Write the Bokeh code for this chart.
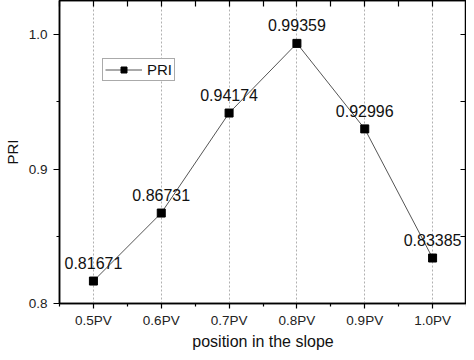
from bokeh.plotting import figure
from bokeh.models import (ColumnDataSource, FixedTicker, LinearAxis, Range1d,
                          Legend, LegendItem, Grid)
from bokeh.core.properties import value
from bokeh.embed import file_html
from bokeh.resources import INLINE

# ---- data ----
categories = ["0.5PV", "0.6PV", "0.7PV", "0.8PV", "0.9PV", "1.0PV"]
pri = [0.81671, 0.86731, 0.94174, 0.99359, 0.92996, 0.83385]
y_ticks = [0.8, 0.9, 1.0]
y_minor = [0.85, 0.95]

FONT = "Liberation Sans"

xs = list(range(len(categories)))
src = ColumnDataSource(dict(x=xs, y=pri, lab=["%.5f" % v for v in pri]))

p = figure(width=466, height=352, output_backend="svg", toolbar_location=None,
           x_range=Range1d(-0.5, len(categories) - 0.5),
           y_range=Range1d(0.8, 1.0255),
           min_border_left=0, min_border_right=0, min_border_top=0,
           min_border_bottom=0, x_axis_type=None, y_axis_type=None)
p.background_fill_color = "white"
p.border_fill_color = "white"
p.outline_line_color = "black"
p.outline_line_width = 1.5

x_minor = [i - 0.5 for i in range(len(categories) + 1)]
xt = FixedTicker(ticks=xs, minor_ticks=x_minor)
yt = FixedTicker(ticks=y_ticks, minor_ticks=y_minor)

def style(ax, labels=True, inward=False):
    ax.axis_line_color = "black"
    ax.axis_line_width = 1.5
    ax.major_tick_line_color = "black"
    ax.minor_tick_line_color = "black"
    ax.major_tick_line_width = 1.2
    ax.minor_tick_line_width = 1.2
    if inward:
        ax.major_tick_in = 6
        ax.major_tick_out = 0
        ax.minor_tick_in = 6
        ax.minor_tick_out = 0
    else:
        ax.major_tick_in = 0
        ax.major_tick_out = 5
        ax.minor_tick_in = 0
        ax.minor_tick_out = 3
    ax.major_label_text_font = FONT
    ax.major_label_text_font_size = "13.5px"
    ax.major_label_text_color = "#222222"
    ax.axis_label_text_font = FONT
    ax.axis_label_text_font_style = "normal"
    ax.axis_label_text_color = "#111111"
    if not labels:
        ax.major_label_text_alpha = 0
        ax.major_label_text_font_size = "0px"
        ax.major_label_standoff = 0

xb = LinearAxis(ticker=xt, axis_label="position in the slope")
style(xb)
xb.major_label_overrides = {i: c for i, c in enumerate(categories)}
xb.major_label_standoff = 4
xb.axis_label_text_font_size = "16px"
xb.axis_label_standoff = 2
p.add_layout(xb, "below")

yl = LinearAxis(ticker=yt, axis_label="PRI")
style(yl)
yl.major_tick_out = 6
yl.major_label_overrides = {v: "%.1f" % v for v in y_ticks}
yl.major_label_standoff = 6
yl.axis_label_text_font_size = "15px"
yl.axis_label_standoff = 5
p.add_layout(yl, "left")

xa = LinearAxis(ticker=xt)
style(xa, labels=False, inward=True)
p.add_layout(xa, "above")

yr = LinearAxis(ticker=yt)
style(yr, labels=False, inward=True)
p.add_layout(yr, "right")

g = Grid(dimension=0, ticker=xt, grid_line_color="#b0b0b0",
         grid_line_dash="2 2", grid_line_width=1)
p.add_layout(g, "center")

ln = p.line("x", "y", source=src, line_color="#555555", line_width=1)
mk = p.scatter("x", "y", source=src, marker="square", size=8,
               fill_color="black", line_color="black")

p.text("x", "y", text="lab", source=src, text_align="center",
       text_baseline="middle", y_offset=-18, text_font=value(FONT),
       text_font_size="16px", text_color="#111111")

leg = Legend(items=[LegendItem(label="PRI", renderers=[ln, mk])],
             location=(43, 222), orientation="vertical",
             border_line_color="#555555", border_line_width=1,
             background_fill_color="white", background_fill_alpha=1,
             label_text_font=FONT, label_text_font_size="15px",
             label_text_color="#111111",
             glyph_width=37, glyph_height=15, label_height=15,
             label_standoff=5, padding=2, margin=0, spacing=0)
p.add_layout(leg, "center")

open("out.html", "w").write(file_html(p, INLINE))
